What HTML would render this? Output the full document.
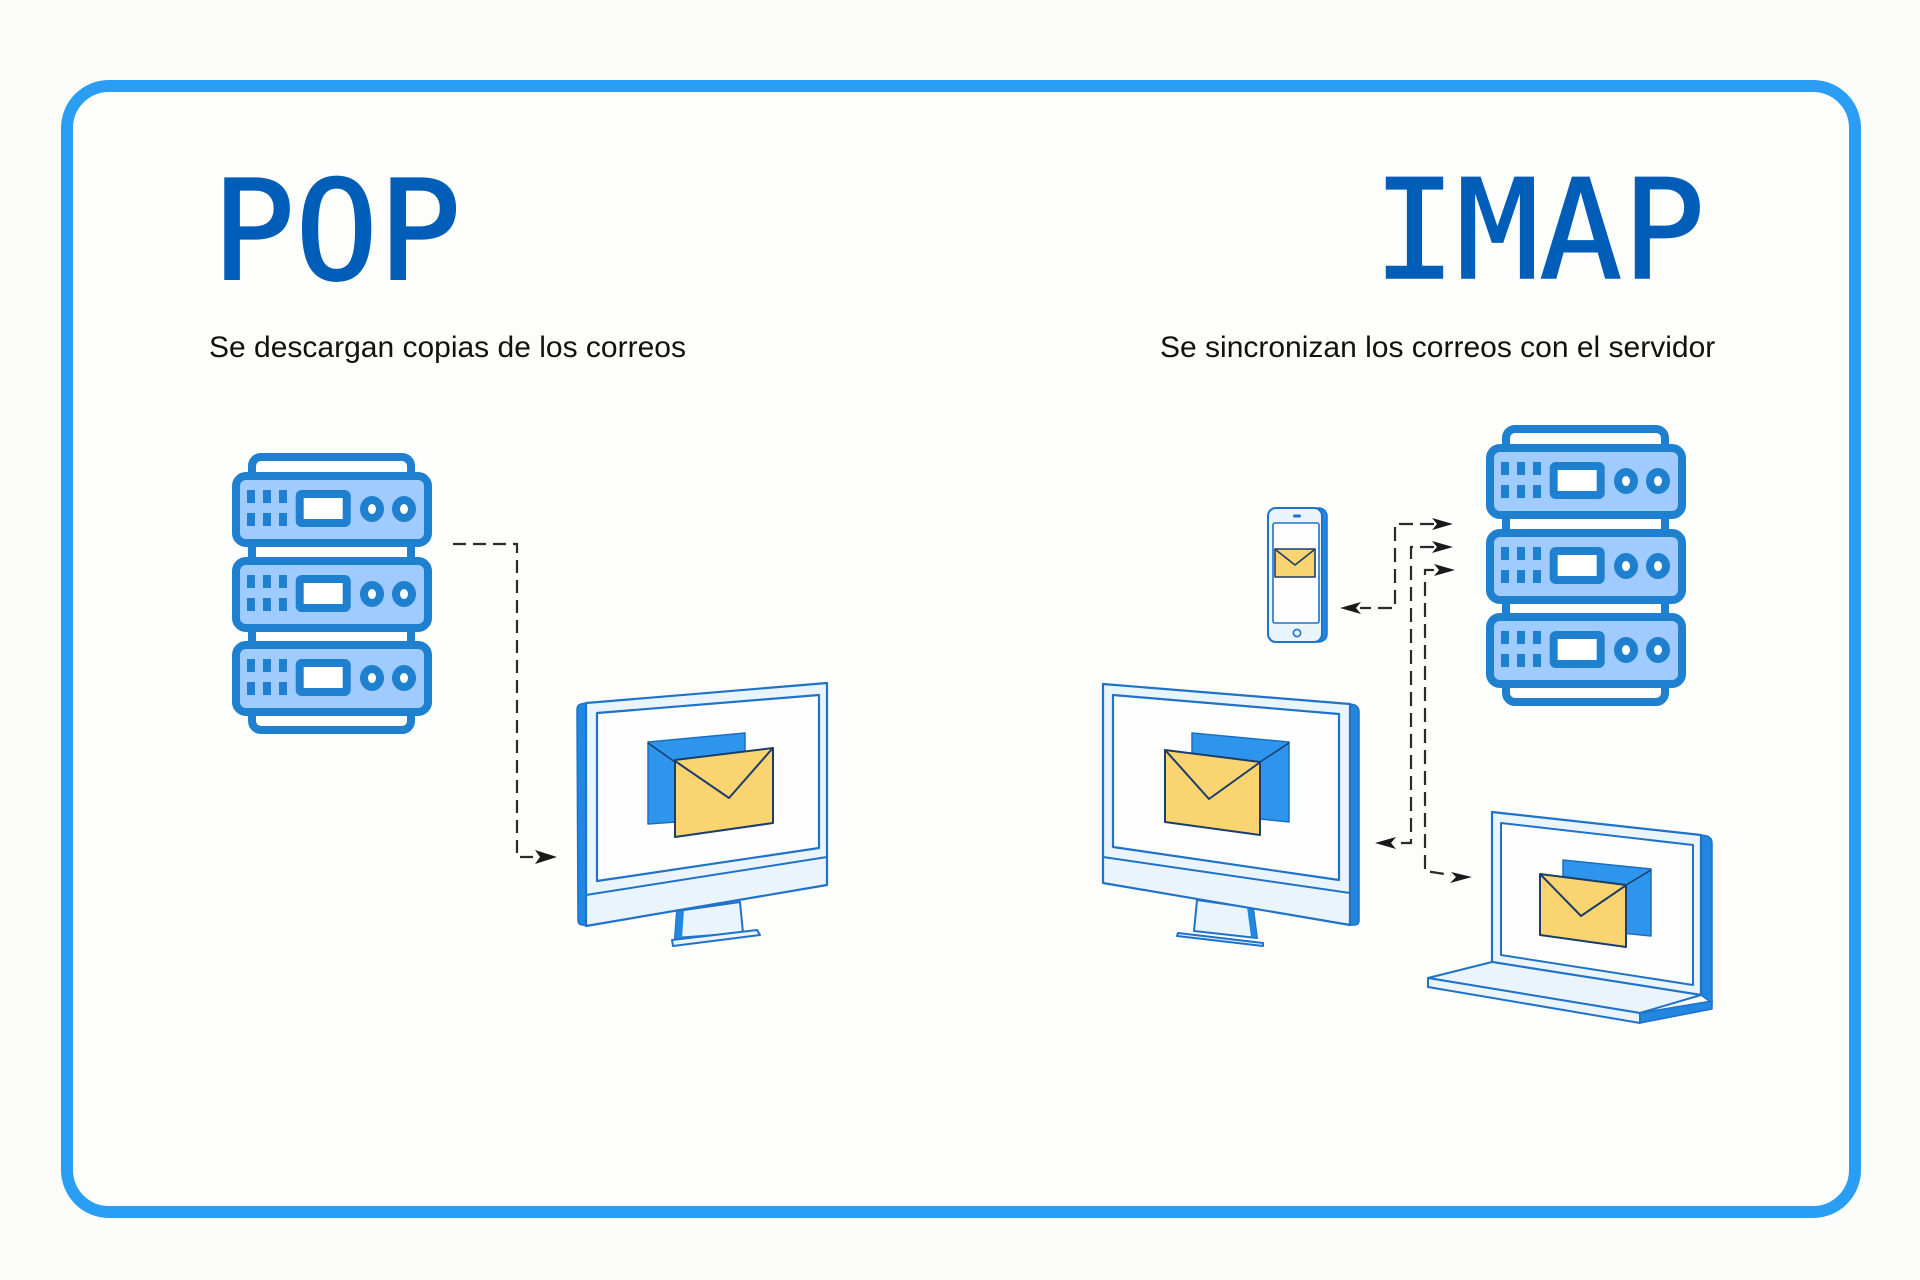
<!DOCTYPE html>
<html>
<head>
<meta charset="utf-8">
<style>
  html, body { margin: 0; padding: 0; background: #FCFCFA; }
  svg { display: block; }
</style>
</head>
<body>
<svg xmlns="http://www.w3.org/2000/svg" width="1920" height="1280" viewBox="0 0 1920 1280">
  <defs>
    <g id="unit">
      <rect x="4" y="4" width="192" height="67" rx="10" fill="#A0CBFF" stroke="#1F80D0" stroke-width="8"/>
      <rect x="15" y="18" width="8" height="13" fill="#1F80D0"/>
      <rect x="31" y="18" width="8" height="13" fill="#1F80D0"/>
      <rect x="47" y="18" width="8" height="13" fill="#1F80D0"/>
      <rect x="15" y="41" width="8" height="13" fill="#1F80D0"/>
      <rect x="31" y="41" width="8" height="13" fill="#1F80D0"/>
      <rect x="47" y="41" width="8" height="13" fill="#1F80D0"/>
      <rect x="67.7" y="22" width="47" height="29" rx="2" fill="#FFFFFF" stroke="#1F80D0" stroke-width="8"/>
      <ellipse cx="140" cy="37" rx="8" ry="9" fill="#FFFFFF" stroke="#1F80D0" stroke-width="8"/>
      <ellipse cx="172" cy="37" rx="8" ry="9" fill="#FFFFFF" stroke="#1F80D0" stroke-width="8"/>
    </g>
    <g id="server">
      <rect x="20" y="4" width="159" height="273" rx="9" fill="#FFFFFF" stroke="#1F80D0" stroke-width="8"/>
      <use href="#unit" x="0" y="19"/>
      <use href="#unit" x="0" y="104"/>
      <use href="#unit" x="0" y="188"/>
    </g>
  </defs>

  <!-- background -->
  <rect x="0" y="0" width="1920" height="1280" fill="#FCFCFA"/>
  <!-- main border -->
  <rect x="67" y="86" width="1788" height="1126" rx="42" fill="#FDFDFC" stroke="#2A9DF4" stroke-width="12"/>

  <!-- Titles -->
  <text x="212" y="279" font-family="'DejaVu Sans Mono', 'Liberation Mono', monospace" font-size="138" fill="#005EB8" stroke="#005EB8" stroke-width="2">POP</text>
  <text x="1373" y="278" font-family="'DejaVu Sans Mono', 'Liberation Mono', monospace" font-size="138" fill="#005EB8" stroke="#005EB8" stroke-width="1.5">IMAP</text>

  <text x="209" y="357" font-family="'Liberation Sans', Arial, sans-serif" font-size="30" fill="#111111">Se descargan copias de los correos</text>
  <text x="1160" y="357" font-family="'Liberation Sans', Arial, sans-serif" font-size="30" fill="#111111">Se sincronizan los correos con el servidor</text>

  <!-- Servers -->
  <use href="#server" x="232" y="453"/>
  <use href="#server" x="1486" y="425"/>

  <!-- POP connector -->
  <g fill="none" stroke="#2A2A2A" stroke-width="2.2" stroke-dasharray="13 7">
    <path d="M453,544 H517 V857 H535"/>
  </g>
  <polygon points="557,857 535,850 540,857 535,864" fill="#1A1A1A"/>

  <!-- POP monitor -->
  <g stroke-linejoin="round">
    <!-- stand -->
    <polygon points="677,911 740,902 743,933 675,938" fill="#EAF4FD" stroke="#1F72C8" stroke-width="2"/>
    <polygon points="677,911 684,910 682,938 675,938" fill="#2287E0"/>
    <polygon points="672,940 757,930 760,935 673,946" fill="#EAF4FD" stroke="#1F72C8" stroke-width="2"/>
    <!-- depth left -->
    <path d="M587,703 L581,704 Q577,705 577,710 L578,920 Q578,925 583,925 L587,926 Z" fill="#2287E0" stroke="#1F72C8" stroke-width="1.5"/>
    <!-- front face -->
    <polygon points="586,703 827,683 827,885 586,926" fill="#EAF4FD" stroke="#1F72C8" stroke-width="2.2"/>
    <!-- screen -->
    <polygon points="597,713 819,695 819,848 597,881" fill="#FEFEFE" stroke="#1F72C8" stroke-width="2.2"/>
    <!-- chin line -->
    <line x1="586" y1="895" x2="827" y2="857" stroke="#1F72C8" stroke-width="2"/>
    <!-- envelopes -->
    <polygon points="648,742 745,733 745,817 648,824" fill="#2D95EC" stroke="#1C6FC0" stroke-width="1.5"/>
    <line x1="648" y1="743" x2="675" y2="762" stroke="#1A3D6B" stroke-width="1.5"/>
    <polygon points="675,760 773,748 773,823 675,837" fill="#F9D470" stroke="#1A3D6B" stroke-width="2"/>
    <polyline points="675,761 729,798 772,749" fill="none" stroke="#1A3D6B" stroke-width="2"/>
  </g>

  <!-- IMAP connectors -->
  <g fill="none" stroke="#2A2A2A" stroke-width="2.2" stroke-dasharray="14 7">
    <path d="M1434,524 H1395 V608 H1360"/>
    <path d="M1434,547 H1411 V843 H1395"/>
    <path d="M1434,570 H1425 V871 L1451,875"/>
  </g>
  <polygon points="1453,524 1432,518 1437,524 1432,530" fill="#1A1A1A"/>
  <polygon points="1340,608 1361,602 1356,608 1361,614" fill="#1A1A1A"/>
  <polygon points="1453,547 1432,541 1437,547 1432,553" fill="#1A1A1A"/>
  <polygon points="1375,843 1396,837 1391,843 1396,849" fill="#1A1A1A"/>
  <polygon points="1455,570 1434,564 1439,570 1434,576" fill="#1A1A1A"/>
  <polygon points="1472,877 1451,872 1456,877 1450,883" fill="#1A1A1A"/>

  <!-- Phone -->
  <g stroke-linejoin="round">
    <rect x="1268" y="508" width="59" height="134" rx="8" fill="#2287E0" stroke="#1F72C8" stroke-width="1.5"/>
    <rect x="1268" y="508" width="54" height="134" rx="8" fill="#EAF4FD" stroke="#1F72C8" stroke-width="2"/>
    <rect x="1273" y="523" width="46" height="100" rx="2" fill="#FEFEFE" stroke="#1F72C8" stroke-width="1.6"/>
    <rect x="1293" y="514.5" width="8" height="3" rx="1.5" fill="#1F72C8"/>
    <circle cx="1297" cy="633" r="3.6" fill="none" stroke="#1F72C8" stroke-width="1.6"/>
    <rect x="1275" y="549" width="40" height="28" fill="#F9D470" stroke="#1A3D6B" stroke-width="1.6"/>
    <polyline points="1276,550 1295,565 1314,550" fill="none" stroke="#1A3D6B" stroke-width="1.6"/>
  </g>

  <!-- IMAP desktop -->
  <g stroke-linejoin="round">
    <!-- stand -->
    <polygon points="1197,900 1253,908 1257,938 1194,931" fill="#EAF4FD" stroke="#1F72C8" stroke-width="2"/>
    <polygon points="1247,907 1253,908 1257,938 1251,937" fill="#2287E0"/>
    <polygon points="1178,933 1263,943 1263,946 1177,936" fill="#EAF4FD" stroke="#1F72C8" stroke-width="2"/>
    <!-- depth right -->
    <path d="M1350,704 L1355,705 Q1359,707 1359,712 L1359,920 Q1359,925 1354,925 L1350,925 Z" fill="#2287E0" stroke="#1F72C8" stroke-width="1.5"/>
    <!-- front -->
    <polygon points="1103,684 1350,704 1350,925 1103,883" fill="#EAF4FD" stroke="#1F72C8" stroke-width="2.2"/>
    <polygon points="1113,695 1339,714 1339,880 1113,847" fill="#FEFEFE" stroke="#1F72C8" stroke-width="2.2"/>
    <line x1="1103" y1="857" x2="1350" y2="893" stroke="#1F72C8" stroke-width="2"/>
    <!-- envelopes -->
    <polygon points="1192,733 1289,742 1289,822 1192,812" fill="#2D95EC" stroke="#1C6FC0" stroke-width="1.5"/>
    <line x1="1289" y1="743" x2="1260" y2="762" stroke="#1A3D6B" stroke-width="1.5"/>
    <polygon points="1165,750 1260,762 1260,835 1165,822" fill="#F9D470" stroke="#1A3D6B" stroke-width="2"/>
    <polyline points="1166,751 1209,799 1259,763" fill="none" stroke="#1A3D6B" stroke-width="2"/>
  </g>

  <!-- Laptop -->
  <g stroke-linejoin="round">
    <!-- lid depth -->
    <path d="M1701,835 L1707,836 Q1712,838 1712,843 L1712,1003 L1701,995 Z" fill="#2287E0" stroke="#1F72C8" stroke-width="1.5"/>
    <!-- lid front -->
    <polygon points="1492,812 1701,835 1701,995 1492,962" fill="#EAF4FD" stroke="#1F72C8" stroke-width="2.2"/>
    <polygon points="1501,823 1693,845 1693,985 1501,955" fill="#FEFEFE" stroke="#1F72C8" stroke-width="2"/>
    <!-- base deck -->
    <polygon points="1428,978 1492,962 1701,995 1640,1013" fill="#EAF4FD" stroke="#1F72C8" stroke-width="2"/>
    <polygon points="1428,978 1640,1013 1640,1023 1428,987" fill="#EAF4FD" stroke="#1F72C8" stroke-width="2"/>
    <polygon points="1640,1013 1712,1001 1712,1009 1640,1023" fill="#2287E0" stroke="#1F72C8" stroke-width="1.5"/>
    <!-- envelopes -->
    <polygon points="1563,860 1651,869 1651,936 1563,927" fill="#2D95EC" stroke="#1C6FC0" stroke-width="1.5"/>
    <line x1="1651" y1="870" x2="1626" y2="885" stroke="#1A3D6B" stroke-width="1.5"/>
    <polygon points="1540,874 1626,885 1626,947 1540,935" fill="#F9D470" stroke="#1A3D6B" stroke-width="2"/>
    <polyline points="1541,875 1581,916 1625,886" fill="none" stroke="#1A3D6B" stroke-width="2"/>
  </g>
</svg>
</body>
</html>
